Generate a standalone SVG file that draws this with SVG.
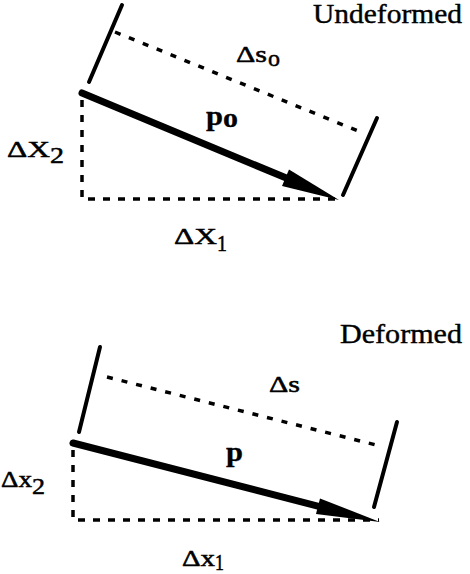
<svg xmlns="http://www.w3.org/2000/svg" width="470" height="574" viewBox="0 0 470 574">
<style>
text{font-family:"Liberation Serif","Times New Roman",serif;fill:#000;stroke:#000;stroke-width:0.5}
.lab{font-size:23px}
.ttl{font-size:27px;stroke-width:0.4}
.bold{font-size:28px;font-weight:bold;stroke-width:0.3}
.tick{stroke:#000;stroke-width:4;stroke-linecap:round;fill:none}
.dash{stroke:#000;stroke-width:3.5;stroke-dasharray:7 8;fill:none}
.dashs{stroke:#000;stroke-width:3.5;stroke-dasharray:6 9;fill:none}
.shaft{stroke:#000;stroke-width:7;stroke-linecap:round;fill:none}
.head{fill:#000;stroke:none}
</style>
<rect width="470" height="574" fill="#fff"/>
<g id="connectors">
  <g id="top-lines">
    <line class="tick" x1="122" y1="5" x2="89" y2="82"/>
    <line class="tick" x1="377" y1="118" x2="343" y2="195"/>
    <line class="dashs" x1="115" y1="32" x2="363" y2="133"/>
    <polyline class="dash" points="82,100 82,199 338,199"/>
    <line class="shaft" x1="82" y1="93" x2="302" y2="184.6"/>
    <polygon class="head" points="339,200 282,186 289,169.4"/>
  </g>
  <g id="bottom-lines">
    <line class="tick" x1="100" y1="347" x2="79" y2="432"/>
    <line class="tick" x1="397" y1="422" x2="374" y2="507"/>
    <line class="dashs" x1="107" y1="377" x2="380" y2="446"/>
    <polyline class="dash" points="73,450 73,520 379,520"/>
    <line class="shaft" x1="73" y1="443" x2="336" y2="510.8"/>
    <polygon class="head" points="380,522 316,513.9 320,498.4"/>
  </g>
</g>
<g id="undeformed">
  <text class="ttl" x="313" y="23" textLength="149" lengthAdjust="spacingAndGlyphs">Undeformed</text>
  <text class="lab"><tspan x="236" y="62" textLength="31" lengthAdjust="spacingAndGlyphs">Δs</tspan><tspan x="268" y="66" textLength="12" lengthAdjust="spacingAndGlyphs">o</tspan></text>
  <text class="bold"><tspan x="206" y="125" textLength="17" lengthAdjust="spacingAndGlyphs">p</tspan><tspan x="223" y="127" textLength="15" lengthAdjust="spacingAndGlyphs">o</tspan></text>
  <text class="lab"><tspan x="7" y="157" textLength="43" lengthAdjust="spacingAndGlyphs">ΔX</tspan><tspan x="50" y="163" textLength="14" lengthAdjust="spacingAndGlyphs">2</tspan></text>
  <text class="lab"><tspan x="174" y="244" textLength="43" lengthAdjust="spacingAndGlyphs">ΔX</tspan><tspan x="217" y="251" textLength="10" lengthAdjust="spacingAndGlyphs">1</tspan></text>
</g>
<g id="deformed">
  <text class="ttl" x="340" y="343" textLength="122" lengthAdjust="spacingAndGlyphs" style="font-size:28px">Deformed</text>
  <text class="lab" x="269" y="392" textLength="31" lengthAdjust="spacingAndGlyphs">Δs</text>
  <text class="bold" x="226" y="461" textLength="17" lengthAdjust="spacingAndGlyphs">p</text>
  <text class="lab"><tspan x="1" y="487" textLength="31" lengthAdjust="spacingAndGlyphs">Δx</tspan><tspan x="32" y="494" textLength="13" lengthAdjust="spacingAndGlyphs">2</tspan></text>
  <text class="lab"><tspan x="182" y="566" textLength="33" lengthAdjust="spacingAndGlyphs">Δx</tspan><tspan x="215" y="570" textLength="9" lengthAdjust="spacingAndGlyphs">1</tspan></text>
</g>
</svg>
